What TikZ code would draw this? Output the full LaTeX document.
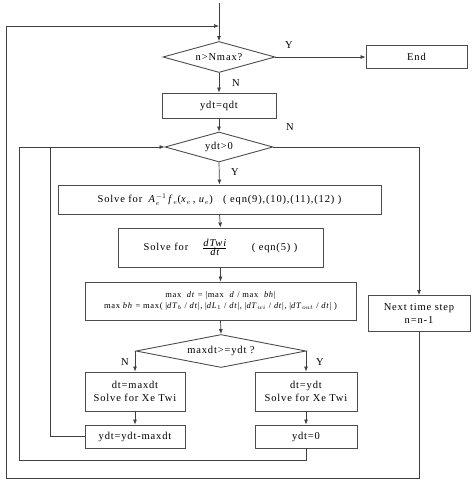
\documentclass[tikz,border=0pt]{standalone}
\usepackage{fontspec}
\setmainfont[LetterSpace=8]{Liberation Serif}
\usetikzlibrary{shapes.geometric,arrows.meta}
\begin{document}
\begin{tikzpicture}[x=1pt,y=-1pt,
  line/.style={draw=black!75, line width=0.7pt},
  arr/.style={line, -{Latex[length=5pt,width=4pt]}},
  box/.style={draw=black!70, line width=0.9pt, rectangle, inner sep=1pt, align=center,
    font=\fontsize{10.5}{12.5}\selectfont},
  dia/.style={draw=black!70, line width=0.9pt, diamond, shape aspect=5, inner sep=0pt, align=center,
    font=\fontsize{10.5}{12.5}\selectfont},
  lbl/.style={font=\fontsize{10.5}{12.5}\selectfont, inner sep=0pt}]
\useasboundingbox (0,0) rectangle (474,480);

% nodes
\node[dia, minimum width=112, minimum height=31] (d1) at (219,57) {n>Nmax?};
\node[box, minimum width=101, minimum height=23] (endb) at (416.5,57) {End};
\node[box, minimum width=114, minimum height=25] (b1) at (219,105.5) {ydt=qdt};
\node[dia, minimum width=108, minimum height=30] (d2) at (219,147) {ydt>0};
\node[box, minimum width=323, minimum height=29] (b2) at (219.5,199.5)
  {Solve for \;\textit{A}$_{e}^{-1}$\,\textit{f}$_{e}$(\textit{x}$_{e}$\,, \textit{u}$_{e}$)\quad ( eqn(9),(10),(11),(12) )};
\node[box, minimum width=205, minimum height=39] (b3) at (220.5,247.5)
  {Solve for \quad $\frac{\textit{dTwi}}{\textit{dt}}$ \qquad ( eqn(5) )};
\node[box, minimum width=271, minimum height=38, font=\fontsize{8.5}{10.5}\selectfont] (b4) at (220.5,301)
  {max\ \ \textit{dt} = |max\ \ \textit{d} / max\ \ \textit{bh}|\\
   max\ \textit{bh} = max( |\textit{dT}$_{b}$ / \textit{dt}|, |\textit{dL}$_{1}$ / \textit{dt}|, |\textit{dT}$_{wi}$ / \textit{dt}|, |\textit{dT}$_{out}$ / \textit{dt}| )};
\node[dia, minimum width=170, minimum height=33] (d3) at (221,351) {maxdt>=ydt ?};
\node[box, minimum width=100, minimum height=39] (b5) at (135,391.5) {dt=maxdt\\Solve for Xe Twi};
\node[box, minimum width=102, minimum height=39] (b6) at (306,391.5) {dt=ydt\\Solve for Xe Twi};
\node[box, minimum width=100, minimum height=23] (b7) at (135,436.5) {ydt=ydt-maxdt};
\node[box, minimum width=102, minimum height=23] (b8) at (306,436.5) {ydt=0};
\node[box, minimum width=102, minimum height=36] (nts) at (419,313.5) {Next time step\\n=n-1};

% coordinates
\coordinate (top) at (219,3);
\coordinate (c4) at (219,26);
\coordinate (c2) at (6,478);
\coordinate (l1) at (50,147);
\coordinate (l2) at (19,147);
\coordinate (l2b) at (19,460);

% labels
\node[lbl] (yl1) at (289,45) {Y};
\node[lbl] (nl1) at (236,83) {N};
\node[lbl] (nl2) at (290,127) {N};
\node[lbl] (yl2) at (235,172) {Y};
\node[lbl] (nl3) at (125,362) {N};
\node[lbl] (yl3) at (320,362) {Y};

% connectors
\draw[arr] (top) -- (d1.north);
\draw[arr] (nts.south) |- (c2) |- (c4);
\draw[arr] (d1.east) -- (endb.west);
\draw[arr] (d1.south) -- (b1.north);
\draw[arr] (b1.south) -- (d2.north);
\draw[arr] (d2.east) -| (nts.north);
\draw[arr] (d2.south) -- (b2.north);
\draw[arr] (b2.south) -- (b3.north);
\draw[arr] (b3.south) -- (b4.north);
\draw[arr] (b4.south) -- (d3.north);
\draw[arr] (d3.west) -| (b5.north);
\draw[arr] (d3.east) -| (b6.north);
\draw[arr] (b5.south) -- (b7.north);
\draw[arr] (b6.south) -- (b8.north);
\draw[arr] (b7.west) -| (l1) -- (d2.west);
\draw[line] (b8.south) |- (l2b) -- (l2) -- (l1);
\end{tikzpicture}
\end{document}
